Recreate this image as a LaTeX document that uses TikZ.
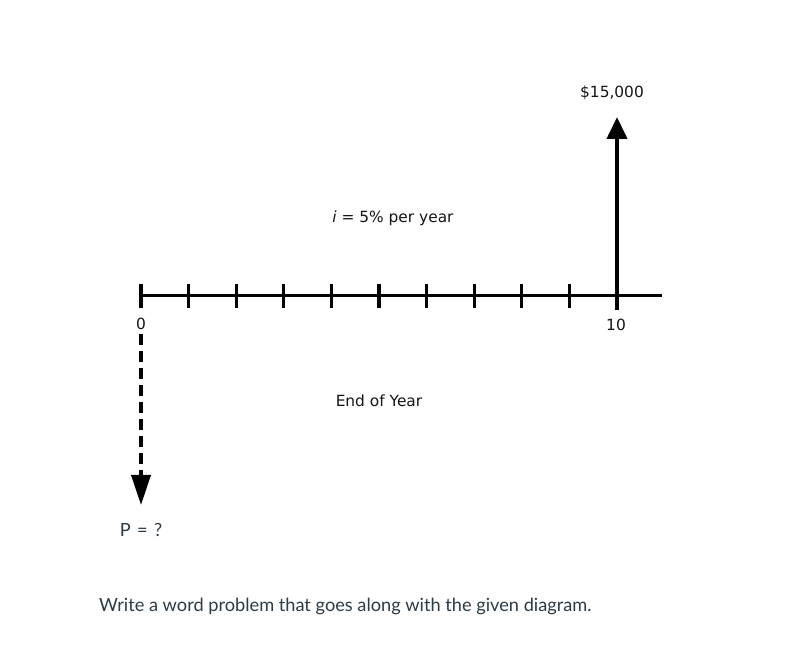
\documentclass[tikz,border=0pt]{standalone}
\usepackage{fontspec}
\setmainfont{Lato}
\newfontfamily\dv{DejaVu Sans}
\usetikzlibrary{arrows.meta}
\definecolor{canvasgray}{HTML}{2D3B45}
\definecolor{labelink}{HTML}{151515}
\tikzset{
  axisline/.style={line width=3pt, black},
  tickline/.style={line width=3.2pt, black},
  flowup/.style={line width=4pt, black, -{Triangle[length=22pt,width=20pt]}},
  flowdown/.style={line width=3.5pt, black, dash pattern=on 11pt off 6pt, -{Triangle[length=30pt,width=19pt]}},
  lbl/.style={font=\dv\fontsize{15.4}{18}\selectfont, text=labelink, inner sep=0pt},
  bigtext/.style={font=\fontsize{18.2}{22}\selectfont, text=canvasgray, inner sep=0pt}
}
\begin{document}
\begin{tikzpicture}[x=1pt,y=-1pt]
\useasboundingbox[fill=white] (0,0) rectangle (788,668);
% axis
\coordinate (axL) at (141,296);
\coordinate (axR) at (662,296);
\draw[axisline] (axL) -- (axR);
% ticks 0..9
\foreach \k in {0,...,9}{
  \coordinate (ttop\k) at ({141+\k*47.6},284);
  \coordinate (tbot\k) at ({141+\k*47.6},308);
  \draw[tickline] (ttop\k) -- (tbot\k);
}
% year 10 cash flow
\coordinate (c10base) at (617,310);
\coordinate (c10tip) at (617,117);
\draw[flowup] (c10base) -- (c10tip);
% labels
\node[lbl] (amount) at (612,93) {\$15,000};
\node[lbl] (rate) at (393,218) {\textit{i} = 5\% per year};
\node[lbl] (zero) at (141,324) {0};
\node[lbl] (ten) at (616,325) {10};
\node[lbl] (eoy) at (379,401) {End of Year};
\node[bigtext] (P) at (141,530) {P\hspace{0.35em}=\hspace{0.35em}?};
% present value arrow
\coordinate (ptip) at (141,505);
\draw[flowdown] ([yshift=-4pt]zero.south) -- (ptip);
% question
\node[bigtext, anchor=west] (q) at (99,606) {Write a word problem that goes along with the given diagram.};
\end{tikzpicture}
\end{document}
